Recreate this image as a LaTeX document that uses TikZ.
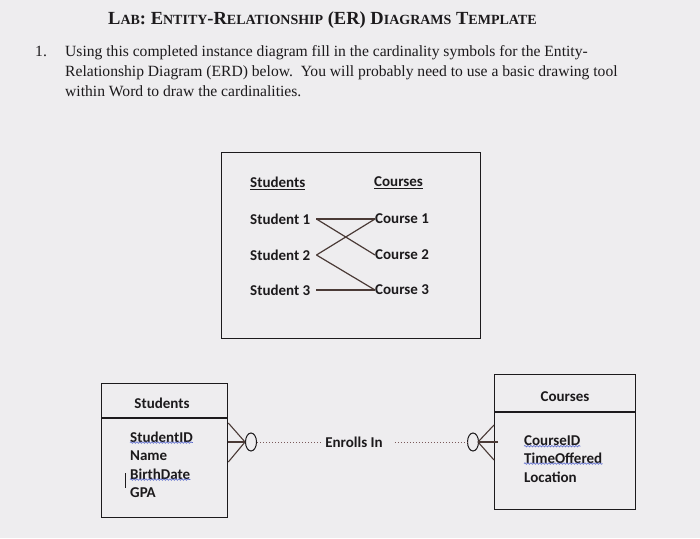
\documentclass[tikz,border=0pt]{standalone}
\usepackage{fontspec}
\setmainfont{Liberation Serif}
\newfontfamily\calfont{Carlito}
\usetikzlibrary{decorations.pathmorphing,shapes.geometric}
\definecolor{bgc}{HTML}{EEEDEF}
\definecolor{ink}{HTML}{1C1A1C}
\definecolor{crow}{HTML}{4A3A36}
\definecolor{dotc}{HTML}{7A5A5A}
\definecolor{squig}{HTML}{5A6ACC}
\newcommand{\bigsc}[1]{{\fontsize{18.5}{18.5}\selectfont #1}}
\newcommand{\smsc}[1]{{\fontsize{14}{14}\selectfont #1}}
\begin{document}
\begin{tikzpicture}[x=1pt,y=-1pt,
  serifline/.style={anchor=base west, inner sep=0pt, text=ink, font=\fontsize{15.6}{17}\selectfont},
  sanst/.style={inner sep=0pt, text=ink, font=\calfont\bfseries\fontsize{15}{16}\selectfont},
  box/.style={draw=ink, line width=1.3pt},
  inst/.style={draw=crow, line width=1.2pt},
  crowline/.style={draw=crow, line width=1.1pt},
  opt/.style={draw=ink, line width=1pt, ellipse, minimum width=11pt, minimum height=18pt, inner sep=0pt},
  dotl/.style={draw=dotc, line width=1pt, dotted},
  squiggle/.style={draw=squig, line width=0.6pt, decorate, decoration={snake, amplitude=0.8pt, segment length=3pt}}
]
\fill[bgc] (0,0) rectangle (700,538);
\useasboundingbox (0,0) rectangle (700,538);

% Title
\node[anchor=base west, inner sep=0pt, text=ink, font=\bfseries] (title) at (108,24)
  {\bigsc{L}\smsc{AB}\bigsc{: E}\smsc{NTITY}\bigsc{-R}\smsc{ELATIONSHIP}\bigsc{ (ER) D}\smsc{IAGRAMS}\bigsc{ T}\smsc{EMPLATE}};

% Instruction
\node[serifline] (num) at (35,56) {1.};
\node[serifline] (l1) at (65,56) {Using this completed instance diagram fill in the cardinality symbols for the Entity-};
\node[serifline] (l2) at (65,76) {Relationship Diagram (ERD) below.\ \ You will probably need to use a basic drawing tool};
\node[serifline] (l3) at (65,96) {within Word to draw the cardinalities.};

% Instance diagram
\node[box, anchor=north west, minimum width=259pt, minimum height=186pt, inner sep=0pt] (inbox) at (221,152) {};
\node[sanst, anchor=west] (hs) at (250,183) {\underline{Students}};
\node[sanst, anchor=west] (hc) at (374,183) {\underline{Courses}};
\node[sanst, anchor=west] (s1) at (250,219) {Student 1};
\node[sanst, anchor=west] (s2) at (250,255) {Student 2};
\node[sanst, anchor=west] (s3) at (250,290) {Student 3};
\node[sanst, anchor=west] (c1) at (375,219) {Course 1};
\node[sanst, anchor=west] (c2) at (375,255) {Course 2};
\node[sanst, anchor=west] (c3) at (375,290) {Course 3};
\draw[inst] ([xshift=6pt]s1.east) -- (c1.west);
\draw[inst] ([xshift=6pt]s1.east) -- (c2.west);
\draw[inst] ([xshift=6pt]s2.east) -- (c1.west);
\draw[inst] ([xshift=6pt]s2.east) -- (c3.west);
\draw[inst] ([xshift=6pt]s3.east) -- (c3.west);

% Students entity
\node[box, anchor=north west, minimum width=126pt, minimum height=134pt, inner sep=0pt] (sbox) at (101,383) {};
\draw[box] (sbox.west |- 0,418) -- (sbox.east |- 0,418);
\node[sanst] (stitle) at (162,403) {Students};
\node[sanst, anchor=west] (a1) at (130,437) {StudentID};
\node[sanst, anchor=west] (a2) at (130,456) {Name};
\node[sanst, anchor=west] (a3) at (130,474) {BirthDate};
\node[sanst, anchor=west] (a4) at (130,493) {GPA};
\draw[squiggle] (a1.south west) -- (a1.south east);
\draw[squiggle] (a3.south west) -- (a3.south east);
\draw[draw=ink, line width=1pt] (125,473) -- (125,488);

% Courses entity
\node[box, anchor=north west, minimum width=141pt, minimum height=135pt, inner sep=0pt] (cbox) at (494,374) {};
\draw[box] (cbox.west |- 0,412) -- (cbox.east |- 0,412);
\node[sanst] (ctitle) at (565,397) {Courses};
\node[sanst, anchor=west] (b1) at (524,441) {CourseID};
\node[sanst, anchor=west] (b2) at (524,458) {TimeOffered};
\node[sanst, anchor=west] (b3) at (524,477) {Location};
\draw[squiggle] (b1.south west) -- (b1.south east);
\draw[squiggle] (b2.south west) -- (b2.south east);

% Relationship
\node[sanst] (rel) at (354,442) {Enrolls In};
\node[opt] (so) at (251,442) {};
\node[opt] (co) at (473,442) {};
\coordinate (sf) at (245,442);
\coordinate (cf) at (478,442);
\draw[crowline] (sbox.east |- 0,423) -- (sf);
\draw[crowline] (sbox.east |- 0,442) -- (sf);
\draw[crowline] (sbox.east |- 0,462) -- (sf);
\draw[crowline] (cbox.west |- 0,425) -- (cf);
\draw[crowline] ([xshift=4pt]cbox.west |- 0,442) -- (cf);
\draw[crowline] (cbox.west |- 0,460) -- (cf);
\draw[dotl] (so.east) -- ([xshift=-5pt]rel.west);
\draw[dotl] ([xshift=12pt]rel.east) -- (co.west);
\end{tikzpicture}
\end{document}
